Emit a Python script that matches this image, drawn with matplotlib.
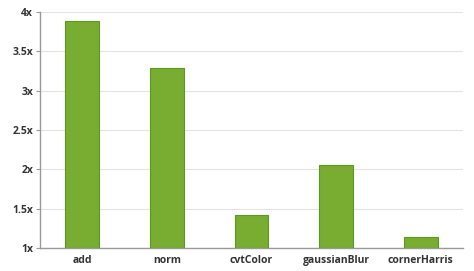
import matplotlib
matplotlib.use("Agg")
import matplotlib.pyplot as plt

categories = ["add", "norm", "cvtColor", "gaussianBlur", "cornerHarris"]
speedups = [3.88, 3.29, 1.42, 2.05, 1.14]
yticks = [1, 1.5, 2, 2.5, 3, 3.5, 4]
yticklabels = ["1x", "1.5x", "2x", "2.5x", "3x", "3.5x", "4x"]

plt.rcParams['font.family'] = ['Open Sans', 'DejaVu Sans']

fig = plt.figure(figsize=(4.74, 2.71), dpi=100)
ax = fig.add_axes([40/474, 23/271, 423/474, 236/271])

x = list(range(len(categories)))
ax.bar(x, [v - 1 for v in speedups], bottom=1, width=0.4,
       color="#78ad32", edgecolor="#5a9a1e", linewidth=0.8, zorder=3)

ax.set_ylim(1, 4)
ax.set_xlim(-0.5, 4.5)
ax.set_yticks(yticks)
ax.set_yticklabels(yticklabels)
ax.set_xticks(x)
ax.set_xticklabels(categories)
ax.grid(axis='y', color="#e4e4e4", linewidth=0.8, zorder=0)
for s in ["top", "right"]:
    ax.spines[s].set_visible(False)
for s in ["left", "bottom"]:
    ax.spines[s].set_color("#999999")
    ax.spines[s].set_linewidth(1.0)
ax.tick_params(axis='y', length=3, color="#999999", labelsize=7.5, labelcolor="#333333", pad=2)
ax.tick_params(axis='x', length=0, labelsize=7.5, labelcolor="#333333", pad=5)
for lab in ax.get_xticklabels() + ax.get_yticklabels():
    lab.set_fontweight('bold')

fig.savefig("out.png", dpi=100)
